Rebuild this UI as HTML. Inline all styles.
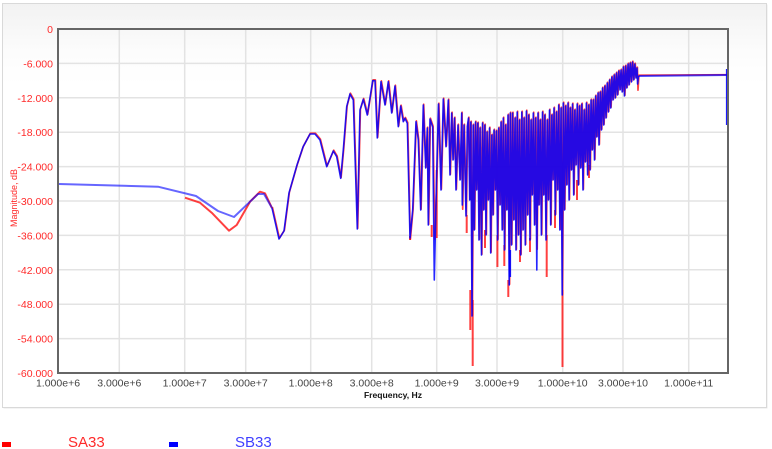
<!DOCTYPE html>
<html>
<head>
<meta charset="utf-8">
<style>
  html,body{margin:0;padding:0;background:#fff;}
  body{width:772px;height:449px;overflow:hidden;position:relative;}
  svg{position:absolute;left:0;top:0;}
  text{font-family:"Liberation Sans",Arial,sans-serif;}
</style>
</head>
<body>
<svg width="772" height="449" viewBox="0 0 772 449" xmlns="http://www.w3.org/2000/svg">
  <defs>
    <linearGradient id="bg" x1="0" y1="0" x2="0" y2="1">
      <stop offset="0" stop-color="#f2f2f2"/>
      <stop offset="0.12" stop-color="#fcfcfc"/>
      <stop offset="0.2" stop-color="#ffffff"/>
      <stop offset="1" stop-color="#ffffff"/>
    </linearGradient>
    <clipPath id="clip"><rect x="59" y="30" width="668" height="342"/></clipPath>
  </defs>

  <rect x="3.5" y="4.5" width="764" height="404" fill="#e9e9e9"/>
  <rect x="2.5" y="3.5" width="764" height="404" fill="url(#bg)" stroke="#d9d9d9" stroke-width="1"/>

  <g stroke="#e3e3e3" stroke-width="1.5" fill="none">
    <line x1="58" y1="63.4" x2="728" y2="63.4"/>
    <line x1="58" y1="97.8" x2="728" y2="97.8"/>
    <line x1="58" y1="132.2" x2="728" y2="132.2"/>
    <line x1="58" y1="166.6" x2="728" y2="166.6"/>
    <line x1="58" y1="201" x2="728" y2="201"/>
    <line x1="58" y1="235.4" x2="728" y2="235.4"/>
    <line x1="58" y1="269.8" x2="728" y2="269.8"/>
    <line x1="58" y1="304.2" x2="728" y2="304.2"/>
    <line x1="58" y1="338.6" x2="728" y2="338.6"/>
    <line x1="119.3" y1="29" x2="119.3" y2="373"/>
    <line x1="184.7" y1="29" x2="184.7" y2="373"/>
    <line x1="245.7" y1="29" x2="245.7" y2="373"/>
    <line x1="310.7" y1="29" x2="310.7" y2="373"/>
    <line x1="371.7" y1="29" x2="371.7" y2="373"/>
    <line x1="436.7" y1="29" x2="436.7" y2="373"/>
    <line x1="497" y1="29" x2="497" y2="373"/>
    <line x1="562.7" y1="29" x2="562.7" y2="373"/>
    <line x1="623" y1="29" x2="623" y2="373"/>
    <line x1="688.7" y1="29" x2="688.7" y2="373"/>
  </g>

  <g clip-path="url(#clip)" fill="none" stroke-linejoin="round">
    <!-- SA33 red -->
    <g stroke="#ff0000" stroke-opacity="0.75" stroke-width="2">
      <path d="M185,197.7 L200,202.7 L211.7,212.7 L229,230.7 L236.7,225 L250,201.7 L260,191.7 L265,193.3 L272,208"/>
      <path transform="translate(0.4,-0.8)" stroke-width="1.7" d="M272,208 L279,239 L284,231 L289,193 L297,165 L303,147 L310,134 L315,134 L320,140 L326.7,166.7 L333.3,151 L336.7,156.7 L340.7,178.3 L343.3,150 L346.7,106.7 L350,94 L353.3,100 L357.3,229 L360,110 L363.3,99.3 L367.3,115 L372.7,80.7 L375,80.7 L377.3,138 L381,81.7 L385,105 L388.3,81.7 L391.7,113 L395,86 L398.3,126.7 L400.7,106 L403.3,121.7 L405,118.3 L407.3,123.3 L410,240 L412.7,210 L416,121.7 L418.3,140 L420.7,210 L423.3,105 L425.7,168 L427.3,128 L428.3,225 L430,119 L432.7,127 L434.3,240 L436.7,173 L438.5,104 L441,190 L443.3,99 L446,146.7 L448.3,100 L450,175 L451.7,113 L453,160 L454.5,118 L456,190 L458,125 L460,180 L461.7,113 L462.3,210 L464,125 L466,216 L467.3,126.7 L468.5,118 L469.7,200 L470.8,122 L472,316 L473.2,125 L474.3,230 L475.5,122 L476.6,190 L477.8,123 L479,240 L480,128 L481.5,255 L482.5,123 L483.7,210 L484.8,125 L486,235 L487,132 L488.3,200 L489.5,128 L490.7,253 L491.8,135 L493,215 L494,130 L495.3,190 L496.4,131 L497.6,240 L498.7,128 L500,205 L501,122 L502.2,230 L503.3,118 L504.5,250 L505.6,125 L506.8,210 L508,115 L509.2,285 L510.3,113 L511.5,245 L512.6,113 L513.8,220 L515,118 L516,250 L517.2,112 L518.4,235 L519.5,120 L520.7,255 L521.8,112 L523,230 L524,118 L525.3,245 L526.4,111 L527.6,215 L528.7,115 L530,240 L531,120 L532.2,195 L533.3,113 L534.5,225 L535.6,118 L536.8,250 L538,113 L539,205 L540.2,120 L541.4,235 L542.5,112 L543.7,195 L544.8,115 L546,240 L547.2,120 L548.4,200 L549.5,110 L550.7,225 L551.8,115 L553,180 L554,108 L555.3,215 L556.4,112 L557.6,190 L558.7,105 L559.9,230 L561,108 L562.2,295 L563.3,103 L564.5,210 L565.6,106 L566.8,185 L568,103 L569.1,200 L570.2,108 L571.4,170 L572.5,104 L573.7,195 L574.8,110 L576,165 L577.2,104 L578.4,185 L579.5,106 L580.7,168 L581.8,104 L583,190 L584.1,110 L585.3,162 L586.4,103 L587.6,175 L588.7,105 L590,170 L591,100 L592.2,150 L593.3,100 L594.5,160 L595.6,96 L596.8,137 L598,93 L599,145 L600.2,92 L601.4,130 L602.5,88 L603.7,125 L604.8,86 L606,118 L607.2,83 L608.4,112 L609.5,80 L610.7,108 L611.8,77 L613,100 L614.1,75 L615.3,98 L616.4,73 L617.6,95 L618.7,71 L620,90 L621,70 L622.2,92 L623.3,67 L624.5,96 L625.6,66 L626.8,88 L628,64 L629,85 L630.2,63 L631.4,82 L632.5,62 L633.7,80 L634.8,64 L636,78 L637,68 L637.6,91 L638.5,76 L727,75.5"/>
      <path d="M472.7,300 L472.7,366 M470.3,290 L470.3,330 M508.3,280 L508.3,297 M504.3,245 L504.3,266 M497.4,235 L497.4,267 M546.7,235 L546.7,277 M562.5,290 L562.5,367 M431.7,225 L431.7,237 M436.7,170 L436.7,238 M466.7,215 L466.7,233 M485,230 L485,248 M520,250 L520,262 M530,238 L530,252 M555,210 L555,228 M577,180 L577,200 M589,165 L589,178 M410,236 L410,240"/>
    </g>
    <!-- SB33 blue -->
    <g stroke="#0000ff" stroke-width="2">
      <path stroke-opacity="0.6" d="M58,184 L158,186.7 L196,196 L218,211 L234,217 L250,201.7 L258,194 L264,194 L272,208"/>
      <path stroke-opacity="0.85" stroke-width="1.6" d="M272,208 L279,239 L284,231 L289,193 L297,165 L303,147 L310,134 L315,134 L320,140 L326.7,166.7 L333.3,151 L336.7,156.7 L340.7,178.3 L343.3,150 L346.7,106.7 L350,94 L353.3,100 L357.3,229 L360,110 L363.3,99.3 L367.3,115 L372.7,80.7 L375,80.7 L377.3,138 L381,81.7 L385,105 L388.3,81.7 L391.7,113 L395,86 L398.3,126.7 L400.7,106 L403.3,121.7 L405,118.3 L407.3,123.3 L410,238 L412.7,210 L416,121.7 L418.3,140 L420.7,210 L423.3,105 L425.7,168 L427.3,128 L428.3,225 L430,119 L432.7,127 L434.3,280 L436.7,173 L438.5,104 L441,190 L443.3,99 L446,146.7 L448.3,100 L450,175 L451.7,113 L453,160 L454.5,118 L456,190 L458,125 L460,180 L461.7,113 L462.3,205 L464,125 L466,216 L467.3,126.7 L468.5,118 L469.7,200 L470.8,122 L472,316 L473.2,125 L474.3,230 L475.5,122 L476.6,190 L477.8,123 L479,240 L480,128 L481.5,255 L482.5,123 L483.7,210 L484.8,125 L486,235 L487,132 L488.3,200 L489.5,128 L490.7,253 L491.8,135 L493,215 L494,130 L495.3,190 L496.4,131 L497.6,240 L498.7,128 L500,205 L501,122 L502.2,230 L503.3,118 L504.5,250 L505.6,125 L506.8,210 L508,115 L509.2,285 L510.3,113 L511.5,245 L512.6,113 L513.8,220 L515,118 L516,250 L517.2,112 L518.4,235 L519.5,120 L520.7,255 L521.8,112 L523,230 L524,118 L525.3,245 L526.4,111 L527.6,215 L528.7,115 L530,240 L531,120 L532.2,195 L533.3,113 L534.5,225 L535.6,118 L536.8,270 L538,113 L539,205 L540.2,120 L541.4,235 L542.5,112 L543.7,195 L544.8,115 L546,240 L547.2,120 L548.4,200 L549.5,110 L550.7,225 L551.8,115 L553,180 L554,108 L555.3,215 L556.4,112 L557.6,190 L558.7,105 L559.9,230 L561,108 L562.2,295 L563.3,103 L564.5,210 L565.6,106 L566.8,185 L568,103 L569.1,200 L570.2,108 L571.4,170 L572.5,104 L573.7,195 L574.8,110 L576,165 L577.2,104 L578.4,185 L579.5,106 L580.7,168 L581.8,104 L583,190 L584.1,110 L585.3,162 L586.4,103 L587.6,175 L588.7,105 L590,170 L591,100 L592.2,150 L593.3,100 L594.5,160 L595.6,96 L596.8,137 L598,93 L599,145 L600.2,92 L601.4,130 L602.5,88 L603.7,125 L604.8,86 L606,118 L607.2,83 L608.4,112 L609.5,80 L610.7,108 L611.8,77 L613,100 L614.1,75 L615.3,98 L616.4,73 L617.6,95 L618.7,71 L620,90 L621,70 L622.2,92 L623.3,67 L624.5,96 L625.6,66 L626.8,88 L628,64 L629,85 L630.2,63 L631.4,82 L632.5,62 L633.7,80 L634.8,64 L636,78 L637,68 L637.6,84 L638.5,76"/>
      <path stroke-opacity="0.7" d="M638.5,76 L727,75"/>
      <path stroke-opacity="0.9" d="M510,250 L510,277 M727,69 L727,125" stroke-width="2.2"/>
    </g>
  </g>

  <rect x="58" y="29" width="670" height="344" fill="none" stroke="#666" stroke-width="2"/>

  <g fill="#ff2a2a" font-size="10.5" text-anchor="end">
    <text x="53" y="33">0</text>
    <text x="53" y="67.4">-6.000</text>
    <text x="53" y="101.8">-12.000</text>
    <text x="53" y="136.2">-18.000</text>
    <text x="53" y="170.6">-24.000</text>
    <text x="53" y="205">-30.000</text>
    <text x="53" y="239.4">-36.000</text>
    <text x="53" y="273.8">-42.000</text>
    <text x="53" y="308.2">-48.000</text>
    <text x="53" y="342.6">-54.000</text>
    <text x="53" y="377">-60.000</text>
  </g>
  <text transform="translate(17,198) rotate(-90)" fill="#ff2a2a" font-size="9" text-anchor="middle">Magnitude, dB</text>

  <g fill="#444" font-size="10.5" text-anchor="middle">
    <text x="58" y="386.5">1.000e+6</text>
    <text x="119.3" y="386.5">3.000e+6</text>
    <text x="184.7" y="386.5">1.000e+7</text>
    <text x="245.7" y="386.5">3.000e+7</text>
    <text x="310.7" y="386.5">1.000e+8</text>
    <text x="371.7" y="386.5">3.000e+8</text>
    <text x="436.7" y="386.5">1.000e+9</text>
    <text x="497" y="386.5">3.000e+9</text>
    <text x="562.7" y="386.5">1.000e+10</text>
    <text x="623" y="386.5">3.000e+10</text>
    <text x="688.7" y="386.5">1.000e+11</text>
  </g>
  <text x="393" y="398" fill="#111" font-size="8.6" font-weight="bold" text-anchor="middle">Frequency, Hz</text>

  <rect x="2" y="442" width="9" height="5" fill="#ff0000"/>
  <text x="68" y="447" fill="#ff2a2a" font-size="15">SA33</text>
  <rect x="169" y="442" width="9" height="5" fill="#0000ff"/>
  <text x="235" y="447" fill="#4040ff" font-size="15">SB33</text>
</svg>
</body>
</html>
